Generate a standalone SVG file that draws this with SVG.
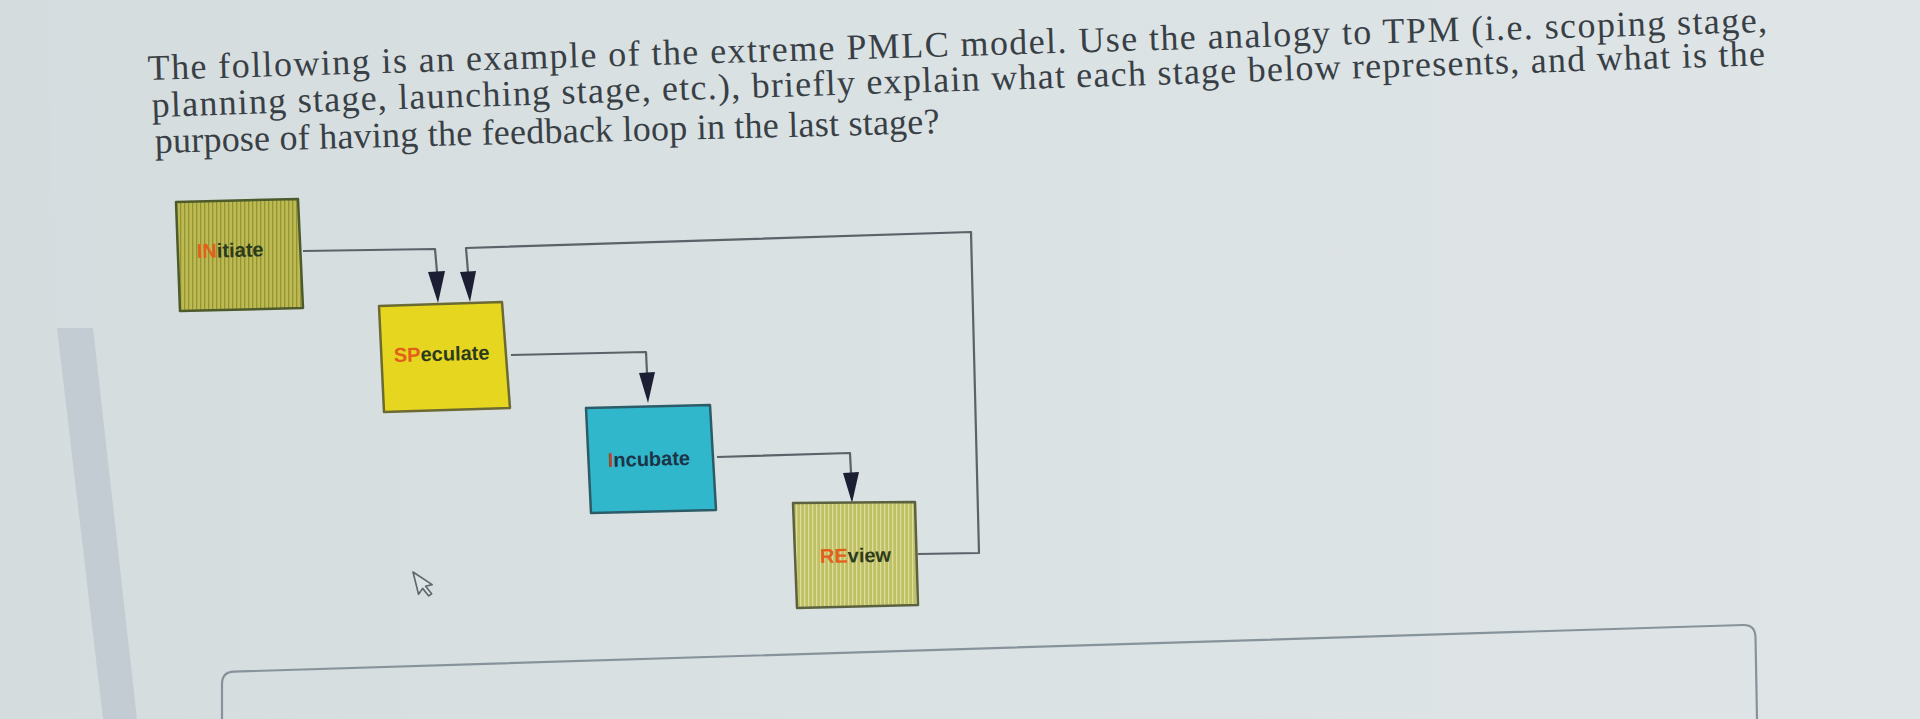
<svg xmlns="http://www.w3.org/2000/svg" width="1920" height="719" viewBox="0 0 1920 719">
<defs>
<linearGradient id="bg" x1="0" y1="0" x2="1" y2="0">
<stop offset="0" stop-color="#d5dcde"/>
<stop offset="0.5" stop-color="#dbe2e4"/>
<stop offset="1" stop-color="#dfe5e6"/>
</linearGradient>
<pattern id="hatchA" width="4" height="10" patternUnits="userSpaceOnUse">
<rect width="4" height="10" fill="#bcba50"/>
<rect x="0" width="1.3" height="10" fill="#939338"/>
</pattern>
<pattern id="hatchB" width="4" height="10" patternUnits="userSpaceOnUse">
<rect width="4" height="10" fill="#bfc063"/>
<rect x="0" width="1.3" height="10" fill="#dcdd9c"/>
</pattern>
</defs>
<style>
.q{font-family:"Liberation Serif","Times New Roman",serif;font-size:36px;fill:#384046}
.box{stroke-width:2.5;stroke-linejoin:round}
.lbl{font-family:"Liberation Sans",Arial,sans-serif;font-size:20px;font-weight:bold}
.hi{fill:#e2601c}
.dk{fill:#2c3a1e}
.ln{fill:none;stroke:#5b6268;stroke-width:2.2;stroke-linejoin:round}
.ah{fill:#1c1f33}
</style>
<rect width="1920" height="719" fill="url(#bg)"/>
<!-- left screen bar -->
<polygon points="48,0 84,0 93,328 57,328" fill="#d6dde1"/>
<polygon points="57,328 93,328 137,719 103,719" fill="#c4ccd3"/>

<!-- question text -->
<g id="question">
<text class="q" x="148" y="80" transform="rotate(-1.7 148 80)" textLength="1620" lengthAdjust="spacing">The following is an example of the extreme PMLC model. Use the analogy to TPM (i.e. scoping stage,</text>
<text class="q" x="152" y="117" transform="rotate(-1.84 152 117)" textLength="1614" lengthAdjust="spacing">planning stage, launching stage, etc.), briefly explain what each stage below represents, and what is the</text>
<text class="q" x="155" y="153" transform="rotate(-1.45 155 153)" textLength="785" lengthAdjust="spacing">purpose of having the feedback loop in the last stage?</text>
</g>

<g id="connectors">
<polyline class="ln" points="303,251 435,249 437,272"/>
<polygon class="ah" points="428,272 445,271 438,303"/>
<polyline class="ln" points="918,554 979,553 971,232 466,248 468,272"/>
<polygon class="ah" points="460,272 476,271 470,302"/>
<polyline class="ln" points="511,355 646,352 647,373"/>
<polygon class="ah" points="639,373 655,372 648,403"/>
<polyline class="ln" points="717,457 850,453 851,473"/>
<polygon class="ah" points="843,473 859,472 852,503"/>
</g>

<g id="initiate">
<polygon class="box" points="176,202 298,199 303,308 180,311" fill="url(#hatchA)" stroke="#4d5a2c"/>
<text class="lbl" x="197" y="258" transform="rotate(-1.5 197 258)"><tspan class="hi">IN</tspan><tspan class="dk">itiate</tspan></text>
</g>

<g id="speculate">
<polygon class="box" points="379,306 502,302 510,408 384,412" fill="#e6d61f" stroke="#6b6a32"/>
<text class="lbl" x="394" y="362" transform="rotate(-1.5 394 362)"><tspan class="hi">SP</tspan><tspan class="dk">eculate</tspan></text>
</g>

<g id="incubate">
<polygon class="box" points="586,408 710,405 716,510 591,513" fill="#31b7cc" stroke="#2c5c68"/>
<text class="lbl" x="608" y="467" transform="rotate(-1.5 608 467)"><tspan fill="#b8452e">I</tspan><tspan fill="#1d3346">ncubate</tspan></text>
</g>

<g id="review">
<polygon class="box" points="793,503 915,502 918,605 797,608" fill="url(#hatchB)" stroke="#5c6240"/>
<text class="lbl" x="820" y="563" transform="rotate(-1 820 563)"><tspan class="hi">RE</tspan><tspan class="dk">view</tspan></text>
</g>

<!-- mouse cursor -->
<g id="cursor" transform="translate(413,572) rotate(-14) scale(1.35)">
<polygon points="0,0 0,17 4,13.5 7,20 9.5,19 6.5,12.5 11.5,12.5" fill="#dde3e5" stroke="#5e676c" stroke-width="1.2" stroke-linejoin="round"/>
</g>

<!-- answer box -->
<path d="M222,719 L222,684 Q222,672 234,671.6 L1743,625 Q1755,624.6 1755.5,637 L1757,719" fill="none" stroke="#87939a" stroke-width="2.2"/>
</svg>
